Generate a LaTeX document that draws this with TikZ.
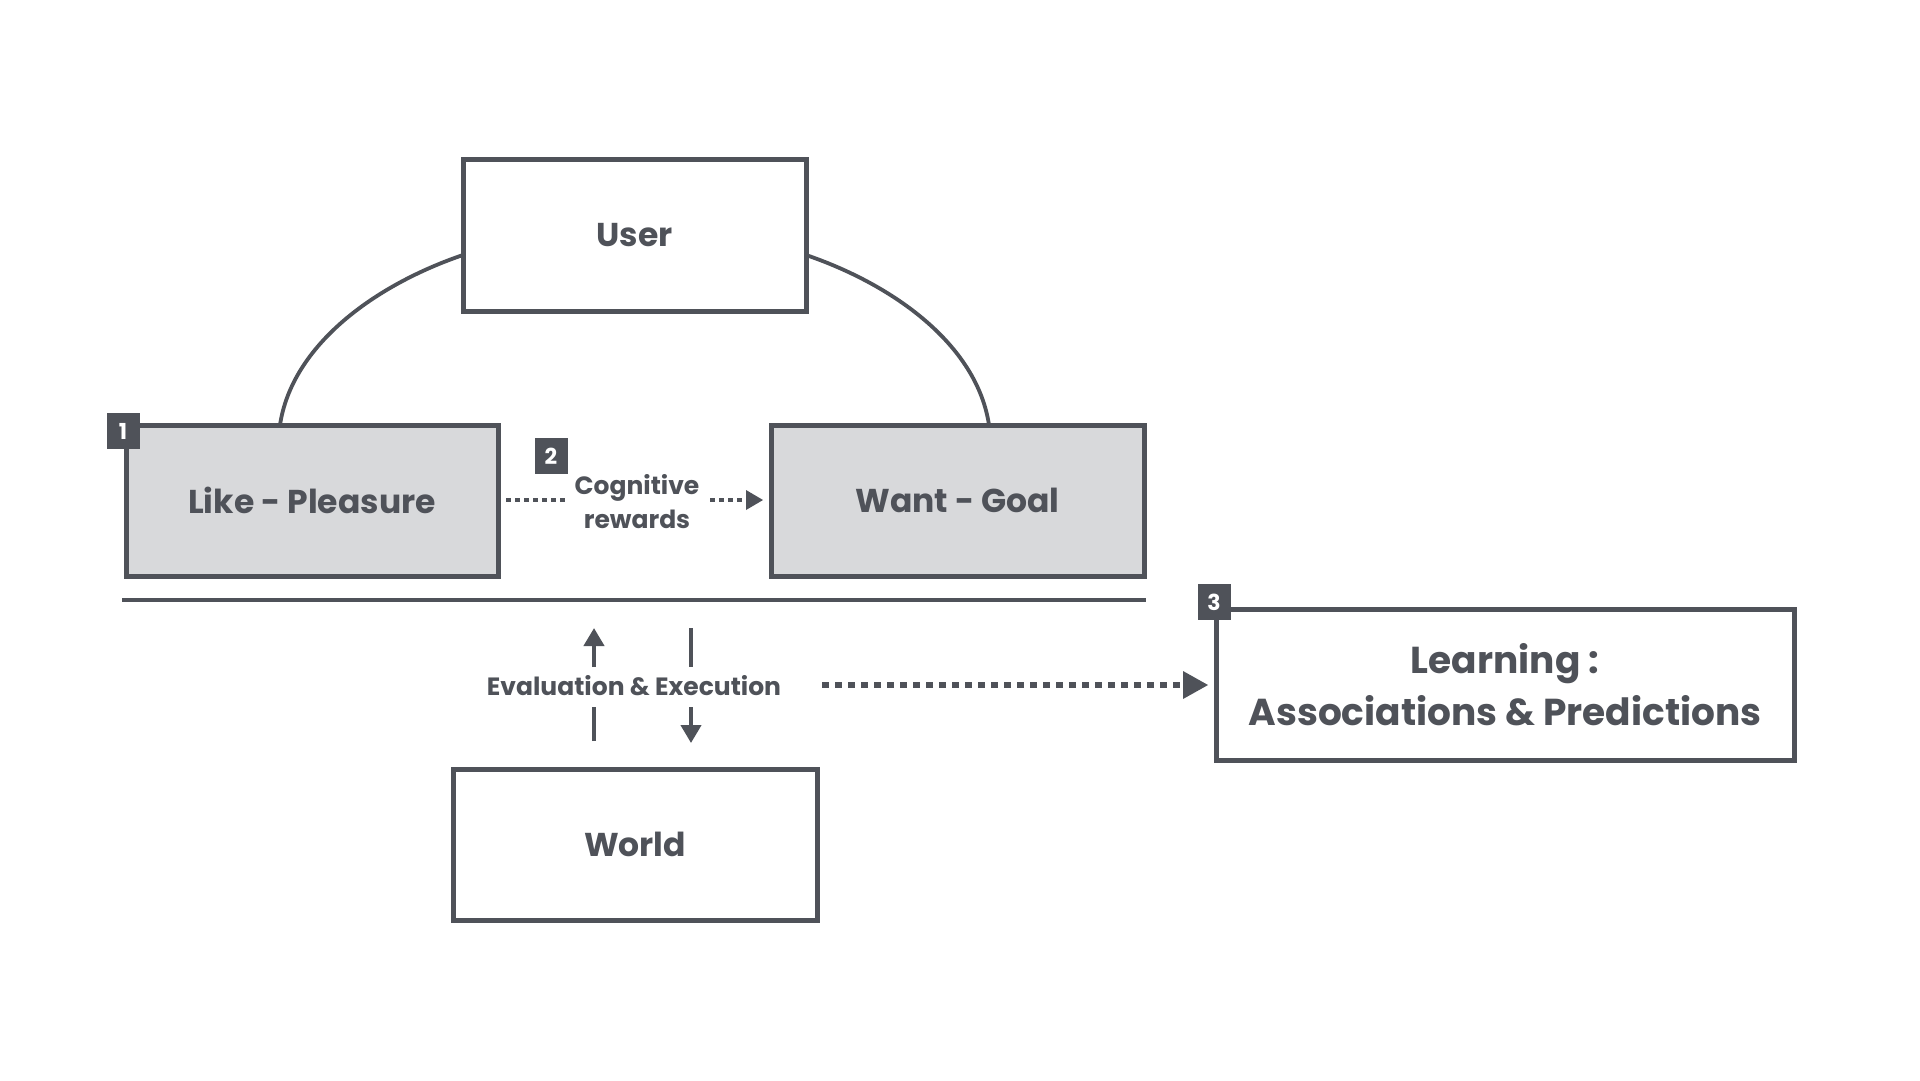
\documentclass[tikz,border=0pt]{standalone}
\usepackage{fontspec}
\setmainfont{Poppins}
\usetikzlibrary{arrows.meta}
\definecolor{ink}{HTML}{4F5259}
\definecolor{boxfill}{HTML}{D8D9DB}
\tikzset{
  box/.style={draw=ink, line width=5pt, minimum width=#1, minimum height=151pt, inner sep=0pt, text=ink, font=\bfseries\fontsize{33}{40}\selectfont},
  badge/.style={fill=ink, minimum width=33pt, minimum height=36pt, inner sep=0pt, text=white, font=\bfseries\fontsize{22}{24}\selectfont},
  lbl/.style={text=ink, font=\bfseries\fontsize{25}{34}\selectfont, align=center, inner sep=0pt},
  arc/.style={draw=ink, line width=3.8pt},
  dotline/.style={draw=ink, line width=4pt, dash pattern=on 5pt off 4pt},
  solid arrow/.style={draw=ink, line width=4.2pt},
  smalltip/.style={-{Triangle[length=18pt,width=20pt]}},
}
\begin{document}
\begin{tikzpicture}[x=1pt,y=-1pt]
\useasboundingbox (0,0) rectangle (1920,1080);
\fill[white] (0,0) rectangle (1920,1080);

\node[box=343pt, minimum height=152pt] (user) at (634.5,235) {User};
\node[box=372pt, fill=boxfill] (like) at (312,500.5) {Like - Pleasure};
\node[box=373pt, fill=boxfill] (want) at (957.5,500.5) {Want - Goal};
\node[box=364pt] (world) at (635,844.5) {World};
\node[box=578pt, font=\bfseries\fontsize{37.5}{52}\selectfont, align=center] (learn) at (1505,684.5) {Learning :\\Associations \& Predictions};

\node[badge] (b1) at (123,431) {1};
\node[badge] (b2) at (551,456) {2};
\node[badge] (b3) at (1214,602) {3};

% arcs
\coordinate (la) at (280,425);
\coordinate (lu) at (463,255);
\coordinate (ru) at (806,255);
\coordinate (ra) at (989,425);
\draw[arc] (la) .. controls (292,345) and (375,285) .. (lu);
\draw[arc] (ru) .. controls (894,285) and (977,345) .. (ra);

% cognitive rewards
\node[lbl] (cog) at (637,502) {Cognitive\\rewards};
\coordinate (c1) at (506,500);
\coordinate (c2) at (566,500);
\coordinate (c3) at (710,500);
\coordinate (c4) at (763,500);
\draw[dotline] (c1) -- (c2);
\draw[dotline] (c3) -- ([xshift=-10pt]c4);
\fill[ink] (c4) -- ++(-17,-10) -- ++(0,20) -- cycle;

% horizontal separator
\coordinate (h1) at (122,600);
\coordinate (h2) at (1146,600);
\draw[draw=ink, line width=4.2pt] (h1) -- (h2);

% evaluation & execution
\node[lbl] (eval) at (634,686) {Evaluation \& Execution};
\coordinate (u1) at (594,741);
\coordinate (u2) at (594,707);
\coordinate (u3) at (594,667);
\coordinate (u4) at (594,628);
\draw[solid arrow] (u1) -- (u2);
\draw[solid arrow, smalltip] (u3) -- (u4);
\coordinate (d1) at (691,628);
\coordinate (d2) at (691,667);
\coordinate (d3) at (691,707);
\coordinate (d4) at (691,743);
\draw[solid arrow] (d1) -- (d2);
\draw[solid arrow, smalltip] (d3) -- (d4);

% learning arrow
\coordinate (e1) at (822,685);
\coordinate (e2) at (1208,685);
\draw[dotline, line width=5.5pt, dash pattern=on 7pt off 6pt] (e1) -- ([xshift=-22pt]e2);
\fill[ink] (e2) -- ++(-25,-14) -- ++(0,28) -- cycle;
\end{tikzpicture}
\end{document}
